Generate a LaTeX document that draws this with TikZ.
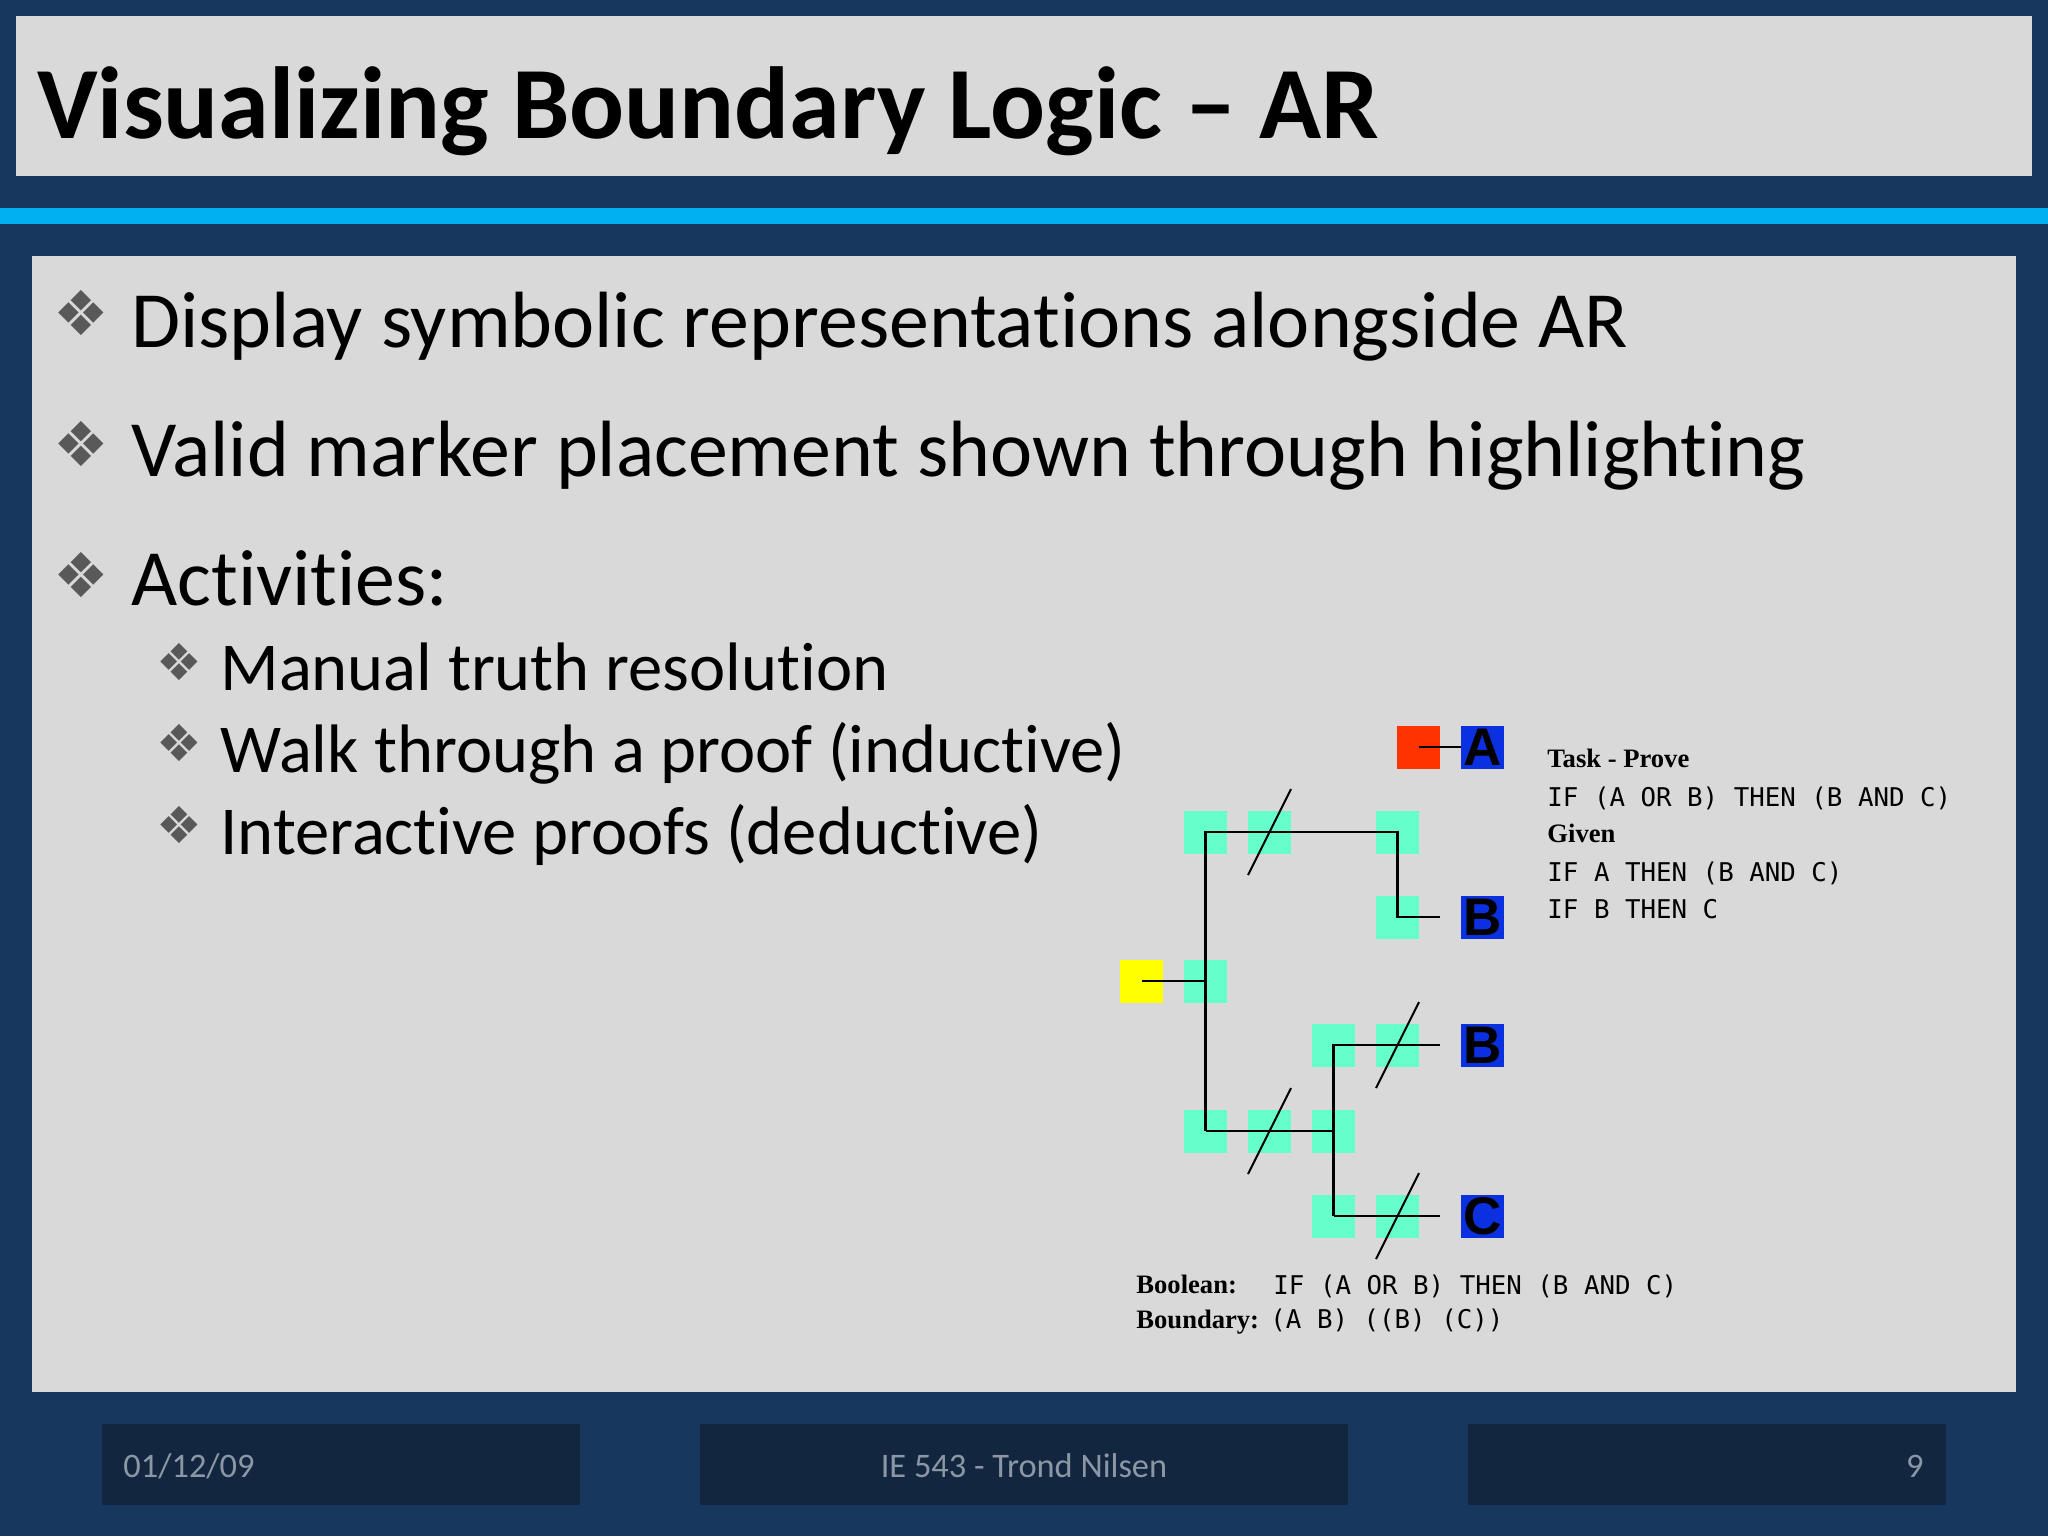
\documentclass[tikz,border=0pt]{standalone}
\usepackage{fontspec}
\setmainfont[Ligatures={TeX,NoCommon}]{Carlito}
\newfontfamily\serifbold[BoldFont={Liberation Serif Bold}]{Liberation Serif}
\newfontfamily\monotext{DejaVu Sans Mono}
\newfontfamily\armfont{Liberation Sans}
\newfontfamily\dingfont{DejaVu Sans}
\usetikzlibrary{calc,positioning}
\definecolor{slidenavy}{HTML}{17375E}
\definecolor{slidecyan}{HTML}{00B0F0}
\definecolor{slidegrey}{HTML}{D9D9D9}
\definecolor{footbox}{HTML}{12263F}
\definecolor{foottext}{HTML}{8C97A6}
\definecolor{bulletgrey}{HTML}{595959}
\definecolor{cellgreen}{HTML}{66FFCC}
\definecolor{cellblue}{HTML}{0A30E0}
\definecolor{cellred}{HTML}{FF3300}
\definecolor{cellyellow}{HTML}{FFFF00}
\tikzset{
  txt/.style={inner sep=0pt, anchor=base west},
  bodytxt/.style={txt, font=\fontsize{39.9}{39.9}\selectfont},
  subtxt/.style={txt, font=\fontsize{34.3}{34.3}\selectfont},
  bigbullet/.style={inner sep=0pt, text=bulletgrey, font=\dingfont\fontsize{31}{31}\selectfont},
  subbullet/.style={inner sep=0pt, text=bulletgrey, font=\dingfont\fontsize{25.5}{25.5}\selectfont},
  foottxt/.style={inner sep=0pt, anchor=base, text=foottext, font=\fontsize{17.2}{17.2}\selectfont},
  cell/.style={inner sep=0pt, minimum size=21.5pt},
  green/.style={cell, fill=cellgreen},
  letter/.style={cell, fill=cellblue, font=\armfont\bfseries\fontsize{26.5}{26.5}\selectfont},
  bold/.style={txt, font=\serifbold\bfseries\fontsize{13.3}{13.3}\selectfont},
  mono/.style={txt, font=\monotext\fontsize{12.9}{12.9}\selectfont},
  wire/.style={draw=black, line width=1.3pt},
  thinwire/.style={draw=black, line width=1pt},
  slashline/.style={draw=black, line width=1pt}
}
\begin{document}
\begin{tikzpicture}[x=.5pt, y=-.5pt, node distance=32pt]
  \fill[slidenavy] (0,0) rectangle (2048,1536);
  \useasboundingbox (0,0) rectangle (2048,1536);

  % title and body
  \fill[slidegrey] (16,16) rectangle (2032,176);
  \fill[slidecyan] (0,208) rectangle (2048,224);
  \fill[slidegrey] (32,256) rectangle (2016,1392);
  \node[txt, font=\bfseries\fontsize{51.2}{51.2}\selectfont] (title) at (37,138) {Visualizing Boundary Logic -- AR};

  \node[bigbullet] (b1) at (81,313) {❖};
  \node[bigbullet] (b2) at (81,444) {❖};
  \node[bigbullet] (b3) at (81,575) {❖};
  \node[bodytxt] (l1) at (131,347) {Display symbolic representations alongside AR};
  \node[bodytxt] (l2) at (131,476) {Valid marker placement shown through highlighting};
  \node[bodytxt] (l3) at (131,605) {Activities:};
  \node[subbullet] (s1) at (179,662) {❖};
  \node[subbullet] (s2) at (179,743) {❖};
  \node[subbullet] (s3) at (179,825) {❖};
  \node[subtxt] (m1) at (220,690) {Manual truth resolution};
  \node[subtxt] (m2) at (220,772) {Walk through a proof (inductive)};
  \node[subtxt] (m3) at (220,854) {Interactive proofs (deductive)};

  % footer
  \fill[footbox] (102,1424) rectangle (580,1505);
  \fill[footbox] (700,1424) rectangle (1348,1505);
  \fill[footbox] (1468,1424) rectangle (1946,1505);
  \node[foottxt, anchor=base west] (date) at (123,1477) {01/12/09};
  \node[foottxt] (course) at (1024,1477) {IE 543 - Trond Nilsen};
  \node[foottxt, anchor=base east] (page) at (1924,1477) {9};

  % cells
  \node[cell, fill=cellred] (red) at (1418.5,747) {};
  \node[letter] (A) at (1482.5,747) {A};
  \node[green] (g1) at (1205.5,832) {};
  \node[green] (g2) [right of=g1] {};
  \node[green] (g3) at (1397.5,832) {};
  \node[green] (g4) at (1397.5,917) {};
  \node[letter] (B1) at (1482.5,917) {B};
  \node[cell, fill=cellyellow] (yel) at (1141.5,981) {};
  \node[green] (g5) [right of=yel] {};
  \node[green] (g6) at (1333.5,1045) {};
  \node[green] (g7) [right of=g6] {};
  \node[letter] (B2) at (1482.5,1045) {B};
  \node[green] (g8) at (1205.5,1131) {};
  \node[green] (g9) [right of=g8] {};
  \node[green] (g10) [right of=g9] {};
  \node[green] (g11) at (1333.5,1216) {};
  \node[green] (g12) [right of=g11] {};
  \node[letter] (C) at (1482.5,1216) {C};

  % free ends next to the letters
  \coordinate (e1) at (1440,917);
  \coordinate (e2) at (1440,1045);
  \coordinate (e3) at (1440,1216);

  \draw[wire] (red.center) -- (A.west);
  \draw[wire] (g8.center) -- (g1.center) -- (g3.center) -- (g4.center) -- (e1);
  \draw[thinwire] (yel.center) -- (g5.center);
  \draw[wire] (g8.center) -- (g10.center);
  \draw[wire] (g11.center) -- (g6.center) -- (e2);
  \draw[wire] (g11.center) -- (e3);

  \foreach \n in {g2,g7,g9,g12}
    \draw[slashline] ($(\n)+(21.5,-43)$) -- ($(\n)+(-21.5,43)$);

  % text of the image
  \node[bold] (task) at (1547,767) {Task - Prove};
  \node[mono] (t1) at (1547,806) {IF (A OR B) THEN (B AND C)};
  \node[bold] (given) at (1547,842) {Given};
  \node[mono] (t2) at (1547,881) {IF A THEN (B AND C)};
  \node[mono] (t3) at (1547,918) {IF B THEN C};
  \node[bold] (bool) at (1136,1293) {Boolean:};
  \node[mono] (boolx) at (1273,1294) {IF (A OR B) THEN (B AND C)};
  \node[bold] (bound) at (1136,1328) {Boundary:};
  \node[mono] (boundx) at (1270,1328) {(A B) ((B) (C))};
\end{tikzpicture}
\end{document}
